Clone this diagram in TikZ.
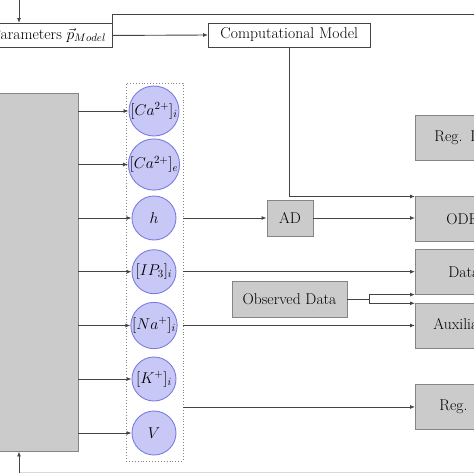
\RequirePackage{fix-cm}
\documentclass[tikz,border=0pt]{standalone}
\usepackage{fontspec}
\usetikzlibrary{arrows.meta,calc}
\definecolor{lnc}{HTML}{444444}
\definecolor{bxfill}{HTML}{CBCBCB}
\definecolor{bxdraw}{HTML}{858585}
\definecolor{cfill}{HTML}{C8C8F7}
\definecolor{cdraw}{HTML}{7C7CE0}
\tikzset{
  every node/.style={font=\fontsize{15.6}{18.7}\selectfont, text=black},
  wbox/.style={draw=lnc, fill=white, line width=0.9pt, inner sep=0pt, minimum height=24pt},
  gbox/.style={draw=bxdraw, fill=bxfill, line width=0.9pt, inner ysep=0pt},
  lossbox/.style={gbox, anchor=north west, minimum height=45pt, text width=110pt, align=left},
  state/.style={circle, draw=cdraw, fill=cfill, line width=0.9pt, minimum size=44pt, inner sep=0pt},
  conn/.style={draw=lnc, line width=0.9pt},
  arr/.style={conn, -{Latex[length=5pt,width=4pt]}},
  contbox/.style={draw=bxdraw, dotted, line width=0.9pt, inner sep=0pt}
}
\begin{document}
\begin{tikzpicture}[x=1pt,y=-1pt]
\useasboundingbox (0,0) rectangle (474,474);
\clip (0,0) rectangle (474,474);
% top row
\node[wbox, anchor=north east, inner xsep=6pt] (params) at (112.5,23) {Parameters $\vec{p}_{Model}$};
\node[wbox, minimum width=161.5pt] (comp) at (289.25,35) {Computational Model};
% left gray block
\node[gbox, minimum width=100pt, minimum height=358pt] (lb) at (28,272) {};
% dotted container
\node[contbox, minimum width=57pt, minimum height=378pt] (cont) at (154.5,272) {};
% state circles
\node[state] (c1) at (154,111) {$[Ca^{2+}]_i$};
\node[state] (c2) at (154,164.5) {$[Ca^{2+}]_e$};
\node[state] (c3) at (154,218) {$h$};
\node[state] (c4) at (154,271.7) {$[IP_3]_i$};
\node[state] (c5) at (154,325.5) {$[Na^{+}]_i$};
\node[state] (c6) at (154,379) {$[K^{+}]_i$};
\node[state] (c7) at (154,433) {$V$};
% middle boxes
\node[gbox, minimum width=46pt, minimum height=36pt, inner xsep=0pt] (ad) at (290,218) {AD};
\node[gbox, minimum width=115pt, minimum height=36pt, inner xsep=0pt] (obs) at (289.5,299) {Observed Data};
% right loss boxes
\node[lossbox, inner xsep=19pt] (reg1) at (415,115) {Reg. Loss};
\node[lossbox, inner xsep=31pt] (ode) at (415,196) {ODE Loss};
\node[lossbox, inner xsep=33pt] (data) at (415,249) {Data Loss};
\node[lossbox, inner xsep=18pt] (aux) at (415,303) {Auxiliary Loss};
\node[lossbox, inner xsep=24pt] (reg2) at (415,384) {Reg. Loss};
% free ends
\coordinate (topin) at (19,-2);
\coordinate (toprt) at (480,14);
\coordinate (botin) at (19,472.5);
\coordinate (botrt) at (480,472.5);
\coordinate (sp) at (369,299);
% connectors
\draw[arr] (topin) -- (topin |- params.north);
\draw[conn] (params.north east) |- (toprt);
\draw[arr] (params.east) -- (comp.west);
\draw[arr] (comp.south) |- ($(ode.north west)+(0,0.5)$);
\foreach \c in {c1,c2,c3,c4,c5,c6,c7}{
  \draw[arr] (lb.east |- \c) -- (\c.west);
}
\draw[arr] (cont.east |- c3) -- (ad.west);
\draw[arr] (ad.east) -- (ode.west |- ad);
\draw[arr] (cont.east |- c4) -- (data.west |- c4);
\draw[arr] (cont.east |- c5) -- (aux.west |- c5);
\draw[arr] (cont.east |- reg2) -- (reg2.west);
\draw[conn] (obs.east) -- (sp);
\draw[arr] (sp) |- ($(data.south west)+(0,-0.3)$);
\draw[arr] (sp) |- ($(aux.north west)+(0,0.3)$);
\draw[draw=black!15, line width=1.5pt] (botin) -- (botrt);
\draw[arr] (botin) -- (botin |- lb.south);
\end{tikzpicture}
\end{document}
